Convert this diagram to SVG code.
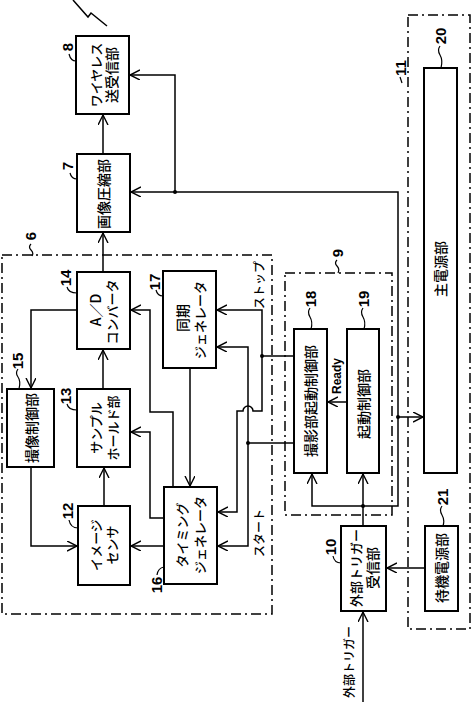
<svg xmlns="http://www.w3.org/2000/svg" width="474" height="702" viewBox="0 0 474 702">
<defs>
<marker id="ar" markerUnits="userSpaceOnUse" markerWidth="12" markerHeight="12" refX="10" refY="5" orient="auto">
<path d="M0,0 L10,5 L0,10" fill="none" stroke="#000" stroke-width="1.4"/>
</marker>
<style>
.box{fill:#fff;stroke:#000;stroke-width:2}
.grp{fill:none;stroke:#000;stroke-width:1.5;stroke-dasharray:10 4 2 4}
.ln{fill:none;stroke:#000;stroke-width:1.5}
.arw{fill:none;stroke:#000;stroke-width:1.5;marker-end:url(#ar)}
.ld{fill:none;stroke:#000;stroke-width:1.2}
.t{font-family:"Noto Sans CJK JP","Noto Sans",sans-serif;font-size:13px;font-weight:500;text-anchor:middle;dominant-baseline:central;fill:#000}
.k{font-size:14px}
.n{font-family:"Liberation Sans",Arial,sans-serif;font-size:15px;font-weight:bold;text-anchor:middle;dominant-baseline:central;fill:#000}
.s{font-family:"Noto Sans CJK JP","Liberation Sans",sans-serif;font-size:12px;font-weight:500;text-anchor:middle;dominant-baseline:central;fill:#000}
</style>
</defs>
<rect width="474" height="702" fill="#fff"/>

<!-- group boundaries -->
<g id="groups">
<rect class="grp" x="2" y="255" width="270" height="359"/>
<rect class="grp" x="285" y="273" width="107" height="242"/>
<rect class="grp" x="408" y="15" width="62" height="614"/>
<text class="n" x="30" y="236" transform="rotate(-90 30 236)">6</text>
<path class="ld" d="M31,244 Q28,247 31,250 Q34,253 32,256"/>
<text class="n" x="337" y="253" transform="rotate(-90 337 253)">9</text>
<path class="ld" d="M337,260 Q334,263 337,266 Q340,269 338,273"/>
<text class="n" x="400" y="68" transform="rotate(-90 400 68)">11</text>
<path class="ld" d="M400,77 L402,83"/>
</g>

<!-- wireless symbol -->
<path class="ln" d="M73,0 L88,17 L91,13 L107,26"/>

<!-- connectors -->
<g id="connectors">
<line class="arw" x1="103" y1="154" x2="103" y2="115"/>
<line class="arw" x1="103" y1="272" x2="103" y2="233"/>
<line class="arw" x1="103" y1="389" x2="103" y2="350"/>
<line class="arw" x1="104" y1="506" x2="104" y2="468"/>
<polyline class="arw" points="77,310 31,310 31,388"/>
<polyline class="arw" points="31,467 31,546 77,546"/>
<line class="arw" x1="190" y1="368" x2="190" y2="486"/>
<polyline class="arw" points="173,487 173,412 150,412 150,310 131,310"/>
<polyline class="arw" points="164,518 150,518 150,432 131,432"/>
<line class="arw" x1="164" y1="546" x2="131" y2="546"/>
<!-- stop -->
<line class="ln" x1="294" y1="356" x2="262" y2="356"/>
<polyline class="arw" points="262,356 262,310 217,310"/>
<path class="arw" d="M262,356 L262,411 L253,411 A5,5 0 0 0 243,411 L237,411 L237,512 L218,512"/>
<!-- start -->
<line class="ln" x1="294" y1="443" x2="248" y2="443"/>
<polyline class="arw" points="248,443 248,347 217,347"/>
<polyline class="arw" points="248,443 248,546 218,546"/>
<!-- ready -->
<line class="arw" x1="347" y1="402" x2="328" y2="402"/>
<!-- trigger / power distribution -->
<line class="arw" x1="363" y1="702" x2="363" y2="612"/>
<line class="arw" x1="425" y1="568" x2="387" y2="568"/>
<line class="ln" x1="363" y1="526" x2="363" y2="506"/>
<line class="arw" x1="363" y1="506" x2="363" y2="474"/>
<polyline class="arw" points="363,506 312,506 312,474"/>
<polyline class="ln" points="363,506 398,506 398,192 175,192"/>
<line class="arw" x1="175" y1="192" x2="131" y2="192"/>
<polyline class="arw" points="175,192 175,75 130,75"/>
<line class="arw" x1="398" y1="417" x2="423" y2="417"/>
<circle cx="175" cy="192" r="2"/>
<circle cx="398" cy="417" r="2"/>
<circle cx="363" cy="506" r="2"/>
<circle cx="262" cy="356" r="2"/>
<circle cx="248" cy="443" r="2"/>
<text class="s" x="258" y="285" transform="rotate(-90 258 285)">ストップ</text>
<text class="s" x="258" y="533" transform="rotate(-90 258 533)">スタート</text>
<text class="s" x="348" y="662" transform="rotate(-90 348 662)">外部トリガー</text>
<text x="337" y="376" transform="rotate(-90 337 376)" style="font-family:'Liberation Sans',Arial,sans-serif;font-size:12px;font-weight:bold;text-anchor:middle;dominant-baseline:central">Ready</text>
</g>

<g id="n8">
<rect class="box" x="76" y="36" width="53" height="78"/>
<text class="t" x="95" y="75" transform="rotate(-90 95 75)">ワイヤレス</text>
<text class="t k" x="111" y="75" transform="rotate(-90 111 75)">送受信部</text>
<text class="n" x="67" y="47" transform="rotate(-90 67 47)">8</text>
<path class="ld" d="M69,54 C70,58 72,61 76,61"/>
</g>
<g id="n7">
<rect class="box" x="77" y="154" width="53" height="78"/>
<text class="t k" x="103" y="194" transform="rotate(-90 103 194)">画像圧縮部</text>
<text class="n" x="67" y="166" transform="rotate(-90 67 166)">7</text>
<path class="ld" d="M70,173 C71,177 73,179 77,179"/>
</g>
<g id="n14">
<rect class="box" x="77" y="272" width="53" height="77"/>
<text class="t k" x="95" y="310" transform="rotate(-90 95 310)">A／D</text>
<text class="t" x="111" y="312" transform="rotate(-90 111 312)">コンバータ</text>
<text class="n" x="65" y="278" transform="rotate(-90 65 278)">14</text>
<path class="ld" d="M67,287 C68,291 71,293 77,293"/>
</g>
<g id="n17">
<rect class="box" x="163" y="271" width="53" height="97"/>
<text class="t k" x="182" y="318" transform="rotate(-90 182 318)">同期</text>
<text class="t" x="199" y="320" transform="rotate(-90 199 320)">ジェネレータ</text>
<text class="n" x="154" y="282" transform="rotate(-90 154 282)">17</text>
<path class="ld" d="M156,290 C157,294 160,296 163,296"/>
</g>
<g id="n15">
<rect class="box" x="7" y="389" width="47" height="78"/>
<text class="t k" x="31" y="428" transform="rotate(-90 31 428)">撮像制御部</text>
<text class="n" x="17" y="361" transform="rotate(-90 17 361)">15</text>
<path class="ld" d="M18,369 Q15,373 18,377 Q21,381 19,389"/>
</g>
<g id="n13">
<rect class="box" x="77" y="389" width="53" height="78"/>
<text class="t" x="95" y="428" transform="rotate(-90 95 428)">サンプル</text>
<text class="t" x="112" y="428" transform="rotate(-90 112 428)">ホールド部</text>
<text class="n" x="65" y="396" transform="rotate(-90 65 396)">13</text>
<path class="ld" d="M67,404 C68,408 71,410 77,410"/>
</g>
<g id="n12">
<rect class="box" x="78" y="506" width="52" height="79"/>
<text class="t" x="95" y="545" transform="rotate(-90 95 545)">イメージ</text>
<text class="t" x="111" y="545" transform="rotate(-90 111 545)">センサ</text>
<text class="n" x="67" y="511" transform="rotate(-90 67 511)">12</text>
<path class="ld" d="M69,520 C70,525 73,528 78,528"/>
</g>
<g id="n16">
<rect class="box" x="164" y="487" width="53" height="97"/>
<text class="t" x="181" y="535" transform="rotate(-90 181 535)">タイミング</text>
<text class="t" x="199" y="535" transform="rotate(-90 199 535)">ジェネレータ</text>
<text class="n" x="156" y="585" transform="rotate(-90 156 585)">16</text>
<path class="ld" d="M157,575 Q158,568 164,567"/>
</g>
<g id="n18">
<rect class="box" x="294" y="329" width="33" height="144"/>
<text class="t k" x="310" y="401" transform="rotate(-90 310 401)">撮影部起動制御部</text>
<text class="n" x="310" y="299" transform="rotate(-90 310 299)">18</text>
<path class="ld" d="M310,308 Q307,312 310,317 Q313,322 311,329"/>
</g>
<g id="n19">
<rect class="box" x="347" y="329" width="32" height="144"/>
<text class="t k" x="363" y="404" transform="rotate(-90 363 404)">起動制御部</text>
<text class="n" x="363" y="299" transform="rotate(-90 363 299)">19</text>
<path class="ld" d="M363,308 Q360,312 363,317 Q366,322 364,329"/>
</g>
<g id="n20">
<rect class="box" x="424" y="68" width="33" height="405"/>
<text class="t k" x="440" y="269" transform="rotate(-90 440 269)">主電源部</text>
<text class="n" x="440" y="36" transform="rotate(-90 440 36)">20</text>
<path class="ld" d="M440,46 Q437,50 440,55 Q443,60 441,68"/>
</g>
<g id="n10">
<rect class="box" x="341" y="526" width="45" height="85"/>
<text class="t" x="355" y="568" transform="rotate(-90 355 568)">外部トリガー</text>
<text class="t k" x="372" y="568" transform="rotate(-90 372 568)">受信部</text>
<text class="n" x="330" y="547" transform="rotate(-90 330 547)">10</text>
<path class="ld" d="M333,556 C334,561 337,563 341,563"/>
</g>
<g id="n21">
<rect class="box" x="425" y="526" width="33" height="85"/>
<text class="t k" x="441" y="568" transform="rotate(-90 441 568)">待機電源部</text>
<text class="n" x="442" y="497" transform="rotate(-90 442 497)">21</text>
<path class="ld" d="M442,506 Q439,510 442,515 Q445,520 443,526"/>
</g>
</svg>
